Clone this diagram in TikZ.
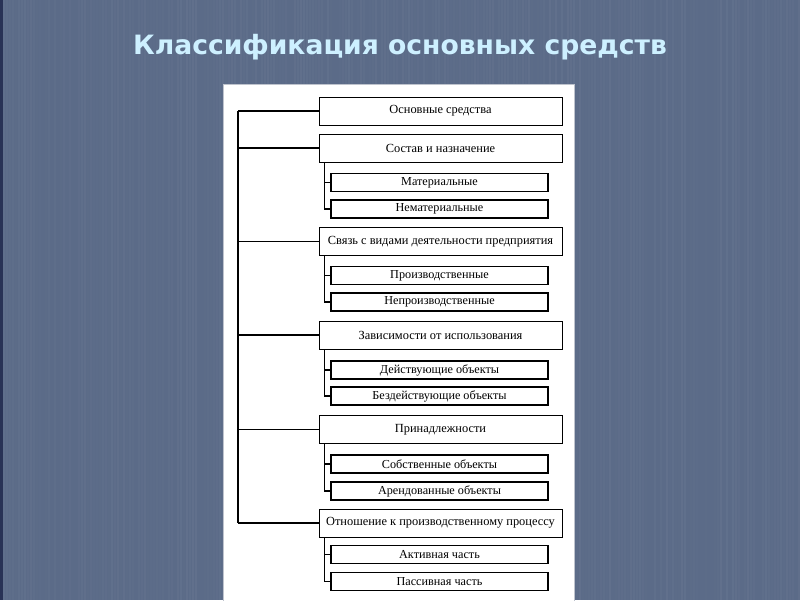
\documentclass[tikz,border=0pt]{standalone}
\usepackage{fontspec}
\setmainfont{Liberation Serif}
\newfontfamily\titlefont{DejaVu Sans}
\begin{document}
\begin{tikzpicture}[x=1pt, y=-1pt,
  topbox/.style={draw, line width=1pt, fill=white, minimum width=243pt,
    minimum height=28pt, inner sep=0pt, font=\fontsize{12.4}{13}\selectfont},
  subbox/.style={draw, line width=1.6pt, fill=white, minimum width=217pt,
    minimum height=18pt, inner sep=0pt, font=\fontsize{12.2}{13}\selectfont},
  link/.style={line width=1.1pt},
  trunkline/.style={line width=2pt}]
% slide background
\useasboundingbox (0,0) rectangle (800,600);
\fill[fill={rgb,255:red,91;green,107;blue,136}] (0,0) rectangle (800,600);
\pgfmathsetseed{11}
\foreach \i in {0,3,...,798}
  \fill[white, opacity={0.04*rnd}] (\i,0) rectangle ++(1.5,600);
\fill[fill={rgb,255:red,40;green,50;blue,85}] (0,0) rectangle (3,600);
\node[font=\titlefont\bfseries\fontsize{26.6}{28}\selectfont,
  text={rgb,255:red,205;green,240;blue,255}] (title) at (400,47)
  {Классификация основных средств};
% white sheet
\fill[white, draw={rgb,255:red,190;green,195;blue,205}, line width=1pt]
  (223,84) rectangle (574,601);
% first level
\node[topbox] (os) at (440.5,111) {Основные средства};
\node[topbox] (sost) at (440.5,148) {Состав и назначение};
\node[topbox] (sv) at (440.5,241.5) {Связь с видами деятельности предприятия};
\node[topbox] (zav) at (440.5,335) {Зависимости от использования};
\node[topbox] (prin) at (440.5,429.5) {Принадлежности};
\node[topbox] (otn) at (440.5,523) {Отношение к производственному процессу};
% second level
\node[subbox] (mat) at (439.5,182.5) {Материальные};
\node[subbox] (nemat) at (439.5,209) {Нематериальные};
\node[subbox] (proizv) at (439.5,275.5) {Производственные};
\node[subbox] (neproizv) at (439.5,302) {Непроизводственные};
\node[subbox] (deist) at (439.5,370) {Действующие объекты};
\node[subbox] (bezdeist) at (439.5,396) {Бездействующие объекты};
\node[subbox] (sobst) at (439.5,464) {Собственные объекты};
\node[subbox] (arend) at (439.5,491) {Арендованные объекты};
\node[subbox] (akt) at (439.5,554.5) {Активная часть};
\node[subbox] (pass) at (439.5,581.5) {Пассивная часть};
% main trunk
\coordinate (trunk) at (238,111);
\draw[trunkline] (trunk) -- (trunk |- otn.west);
\foreach \n in {os,sost,sv,zav,prin,otn}
  \draw[link] (\n.west) -- (\n.west -| trunk);
% branches
\foreach \top/\a/\b in {sost/mat/nemat, sv/proizv/neproizv, zav/deist/bezdeist,
    prin/sobst/arend, otn/akt/pass}{
  \draw[link] ([xshift=6pt]\top.south west) |- (\b.west);
  \draw[link] ([xshift=6pt]\top.south west |- \a.west) -- (\a.west);
}
\end{tikzpicture}
\end{document}
